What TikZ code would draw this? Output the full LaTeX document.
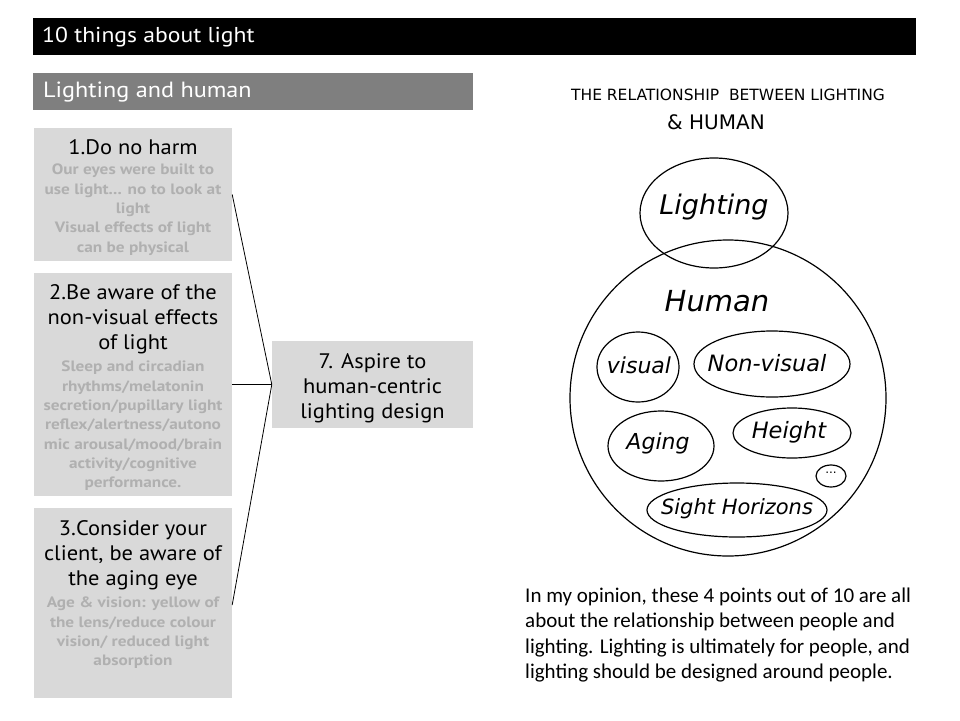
\documentclass[tikz,border=0pt]{standalone}
\usepackage{fontspec}
\setmainfont{PT Sans}
\newfontfamily\hdrfont[FakeStretch=1.1]{PT Sans}
\newfontfamily\dinfont[FakeStretch=1.07]{PT Sans}
\newfontfamily\dinsub[FakeStretch=1.15]{PT Sans}
\newfontfamily\bodyfont{Carlito}
\newfontfamily\handfont{DejaVu Sans}
\definecolor{boxgray}{HTML}{D9D9D9}
\definecolor{subgray}{HTML}{B0B0B0}
\definecolor{bargray}{HTML}{7F7F7F}
\begin{document}
\begin{tikzpicture}[x=1pt,y=-1pt,
  graybox/.style={fill=boxgray,draw=none,inner sep=0pt,rectangle},
  ttl/.style={align=center,inner sep=0pt,font=\dinfont\fontsize{21}{25}\selectfont,anchor=north},
  sub/.style={align=center,inner sep=0pt,font=\dinsub\bfseries\fontsize{15}{19.3}\selectfont,text=subgray,anchor=north},
  conn/.style={draw=black,line width=0.8pt},
  hand/.style={line width=1.2pt}]
\useasboundingbox (0,0) rectangle (960,720);
\fill[white] (0,0) rectangle (960,720);
% header bars
\node[fill=black,minimum width=883pt,minimum height=37pt,inner sep=0pt,anchor=north west] (hdr) at (33,18) {};
\node[anchor=west,text=white,font=\hdrfont\fontsize{21.5}{26}\selectfont,inner sep=0pt] (hdrt) at (42,37) {10 things about light};
\node[fill=bargray,minimum width=440pt,minimum height=37pt,inner sep=0pt,anchor=north west] (sec) at (33,73) {};
\node[anchor=west,text=white,font=\hdrfont\fontsize{22}{26}\selectfont,inner sep=0pt] (sect) at (43,92) {Lighting and human};
% boxes
\node[graybox,minimum width=198pt,minimum height=133pt] (b1) at (133,194.5) {};
\node[graybox,minimum width=198pt,minimum height=223pt] (b2) at (133,384.5) {};
\node[graybox,minimum width=198pt,minimum height=190pt] (b3) at (133,603) {};
\node[graybox,minimum width=201pt,minimum height=87pt] (b7) at (372.5,384.5) {};
% box texts
\node[ttl] (t1) at (133,139) {1.Do no harm};
\node[sub] (s1) at (133,164) {Our eyes were built to\\use light... no to look at\\light\\Visual effects of light\\can be physical};
\node[ttl] (t2) at (133,284) {2.Be aware of the\\non-visual effects\\of light};
\node[sub] (s2) at (133,361) {Sleep and circadian\\rhythms/melatonin\\secretion/pupillary light\\reflex/alertness/autono\\mic arousal/mood/brain\\activity/cognitive\\performance.};
\node[ttl] (t3) at (133,520) {3.Consider your\\client, be aware of\\the aging eye};
\node[sub] (s3) at (133,597) {Age \& vision: yellow of\\the lens/reduce colour\\vision/ reduced light\\absorption};
\node[ttl] (t7) at (372.5,353) {7. Aspire to\\human-centric\\lighting design};
% connectors
\draw[conn] (b1.east) -- (b7.west);
\draw[conn] (b2.east) -- (b7.west);
\draw[conn] ([yshift=-2pt]b3.east) -- (b7.west);
% hand-drawn diagram
\node[font=\handfont\fontsize{15.5}{18}\selectfont,inner sep=0pt] (dtitle) at (728,95) {THE RELATIONSHIP\ \ BETWEEN LIGHTING};
\node[font=\handfont\fontsize{20}{24}\selectfont,inner sep=0pt] (dtitle2) at (716,122) {\& HUMAN};
\draw[hand] (714,213) ellipse [x radius=74, y radius=55];
\node[font=\handfont\itshape\fontsize{27}{30}\selectfont,inner sep=0pt] (light) at (714,207) {Lighting};
\draw[hand] (728,398) ellipse [x radius=158, y radius=158];
\node[font=\handfont\itshape\fontsize{29}{33}\selectfont,inner sep=0pt] (human) at (717,301) {Human};
\draw[hand] (638,367) ellipse [x radius=41, y radius=35];
\node[font=\handfont\itshape\fontsize{22}{26}\selectfont,inner sep=0pt] (vis) at (639,365) {visual};
\draw[hand] (772,364) ellipse [x radius=78, y radius=33];
\node[font=\handfont\itshape\fontsize{22.5}{26}\selectfont,inner sep=0pt] (nvis) at (767,363) {Non-visual};
\draw[hand] (661,446) ellipse [x radius=53, y radius=35];
\node[font=\handfont\itshape\fontsize{22}{26}\selectfont,inner sep=0pt] (aging) at (658,443) {Aging};
\draw[hand] (792,433) ellipse [x radius=59, y radius=25];
\node[font=\handfont\itshape\fontsize{22.5}{26}\selectfont,inner sep=0pt] (height) at (789,432) {Height};
\draw[hand] (831,476) ellipse [x radius=15, y radius=11];
\node[font=\handfont\fontsize{12}{14}\selectfont,inner sep=0pt] (dots) at (831,473) {...};
\draw[hand] (737,510) ellipse [x radius=90, y radius=27];
\node[font=\handfont\itshape\fontsize{21}{25}\selectfont,inner sep=0pt] (sight) at (737,509) {Sight Horizons};
% bottom text
\node[anchor=north west,inner sep=0pt,align=left,font=\bodyfont\fontsize{21}{25.2}\selectfont] (op) at (525,588) {In my opinion, these 4 points out of 10 are all\\about the relationship between people and\\lighting. Lighting is ultimately for people, and\\lighting should be designed around people.};
\end{tikzpicture}
\end{document}
